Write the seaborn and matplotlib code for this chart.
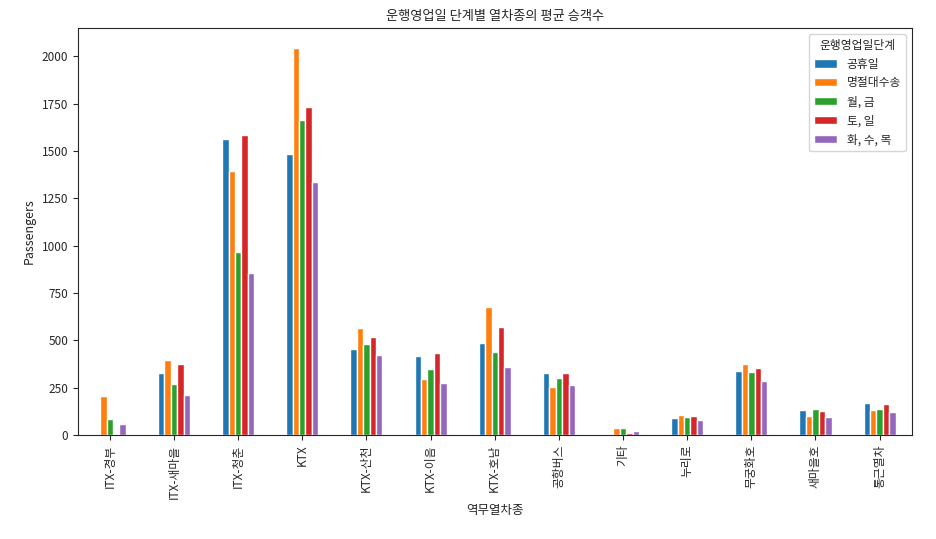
import matplotlib
matplotlib.use("Agg")
import matplotlib.pyplot as plt
import seaborn as sns
import pandas as pd

categories = ["ITX-경부", "ITX-새마을", "ITX-청춘", "KTX", "KTX-산천", "KTX-이음", "KTX-호남",
              "공항버스", "기타", "누리로", "무궁화호", "새마을호", "통근열차"]
stages = ["공휴일", "명절대수송", "월, 금", "토, 일", "화, 수, 목"]
v_holiday = [0, 330, 1565, 1485, 455, 415, 485, 330, 0, 90, 340, 130, 170]
v_festival = [205, 395, 1395, 2045, 565, 295, 675, 255, 35, 105, 375, 100, 130]
v_monfri = [85, 270, 965, 1665, 480, 350, 440, 300, 35, 95, 335, 135, 135]
v_weekend = [0, 375, 1585, 1735, 520, 435, 570, 330, 10, 100, 355, 125, 165]
v_midweek = [60, 210, 855, 1335, 420, 275, 360, 265, 20, 80, 285, 95, 120]

rows = []
for s, vals in zip(stages, [v_holiday, v_festival, v_monfri, v_weekend, v_midweek]):
    for c, v in zip(categories, vals):
        rows.append({"역무열차종": c, "운행영업일단계": s, "Passengers": v})
df = pd.DataFrame(rows)

sns.set_style("ticks")
plt.rcParams['font.family'] = ['Noto Sans CJK KR', 'DejaVu Sans']
plt.rcParams['axes.unicode_minus'] = False

fig, ax = plt.subplots(figsize=(9.37, 5.39), dpi=100)
fig.subplots_adjust(left=0.083, right=0.973, top=0.948, bottom=0.193)
sns.barplot(data=df, x="역무열차종", y="Passengers", hue="운행영업일단계", order=categories,
            hue_order=stages, palette=["#1f77b4", "#ff7f0e", "#2ca02c", "#d62728", "#9467bd"],
            width=0.5, saturation=1, ax=ax)
ax.set_title("운행영업일 단계별 열차종의 평균 승객수", fontsize=9.5)
ax.set_xlabel("역무열차종", fontsize=9)
ax.set_ylabel("Passengers", fontsize=9)
ax.tick_params(axis='x', rotation=90, labelsize=8.5)
ax.tick_params(axis='y', labelsize=8.5)
ax.set_xlim(-0.5, len(categories) - 0.5)
ax.set_ylim(0, 2150)
ax.set_yticks(range(0, 2001, 250))
leg = ax.legend(title="운행영업일단계", loc="upper right", fontsize=8.5, title_fontsize=8.5)
fig.savefig("out.png", dpi=100)
